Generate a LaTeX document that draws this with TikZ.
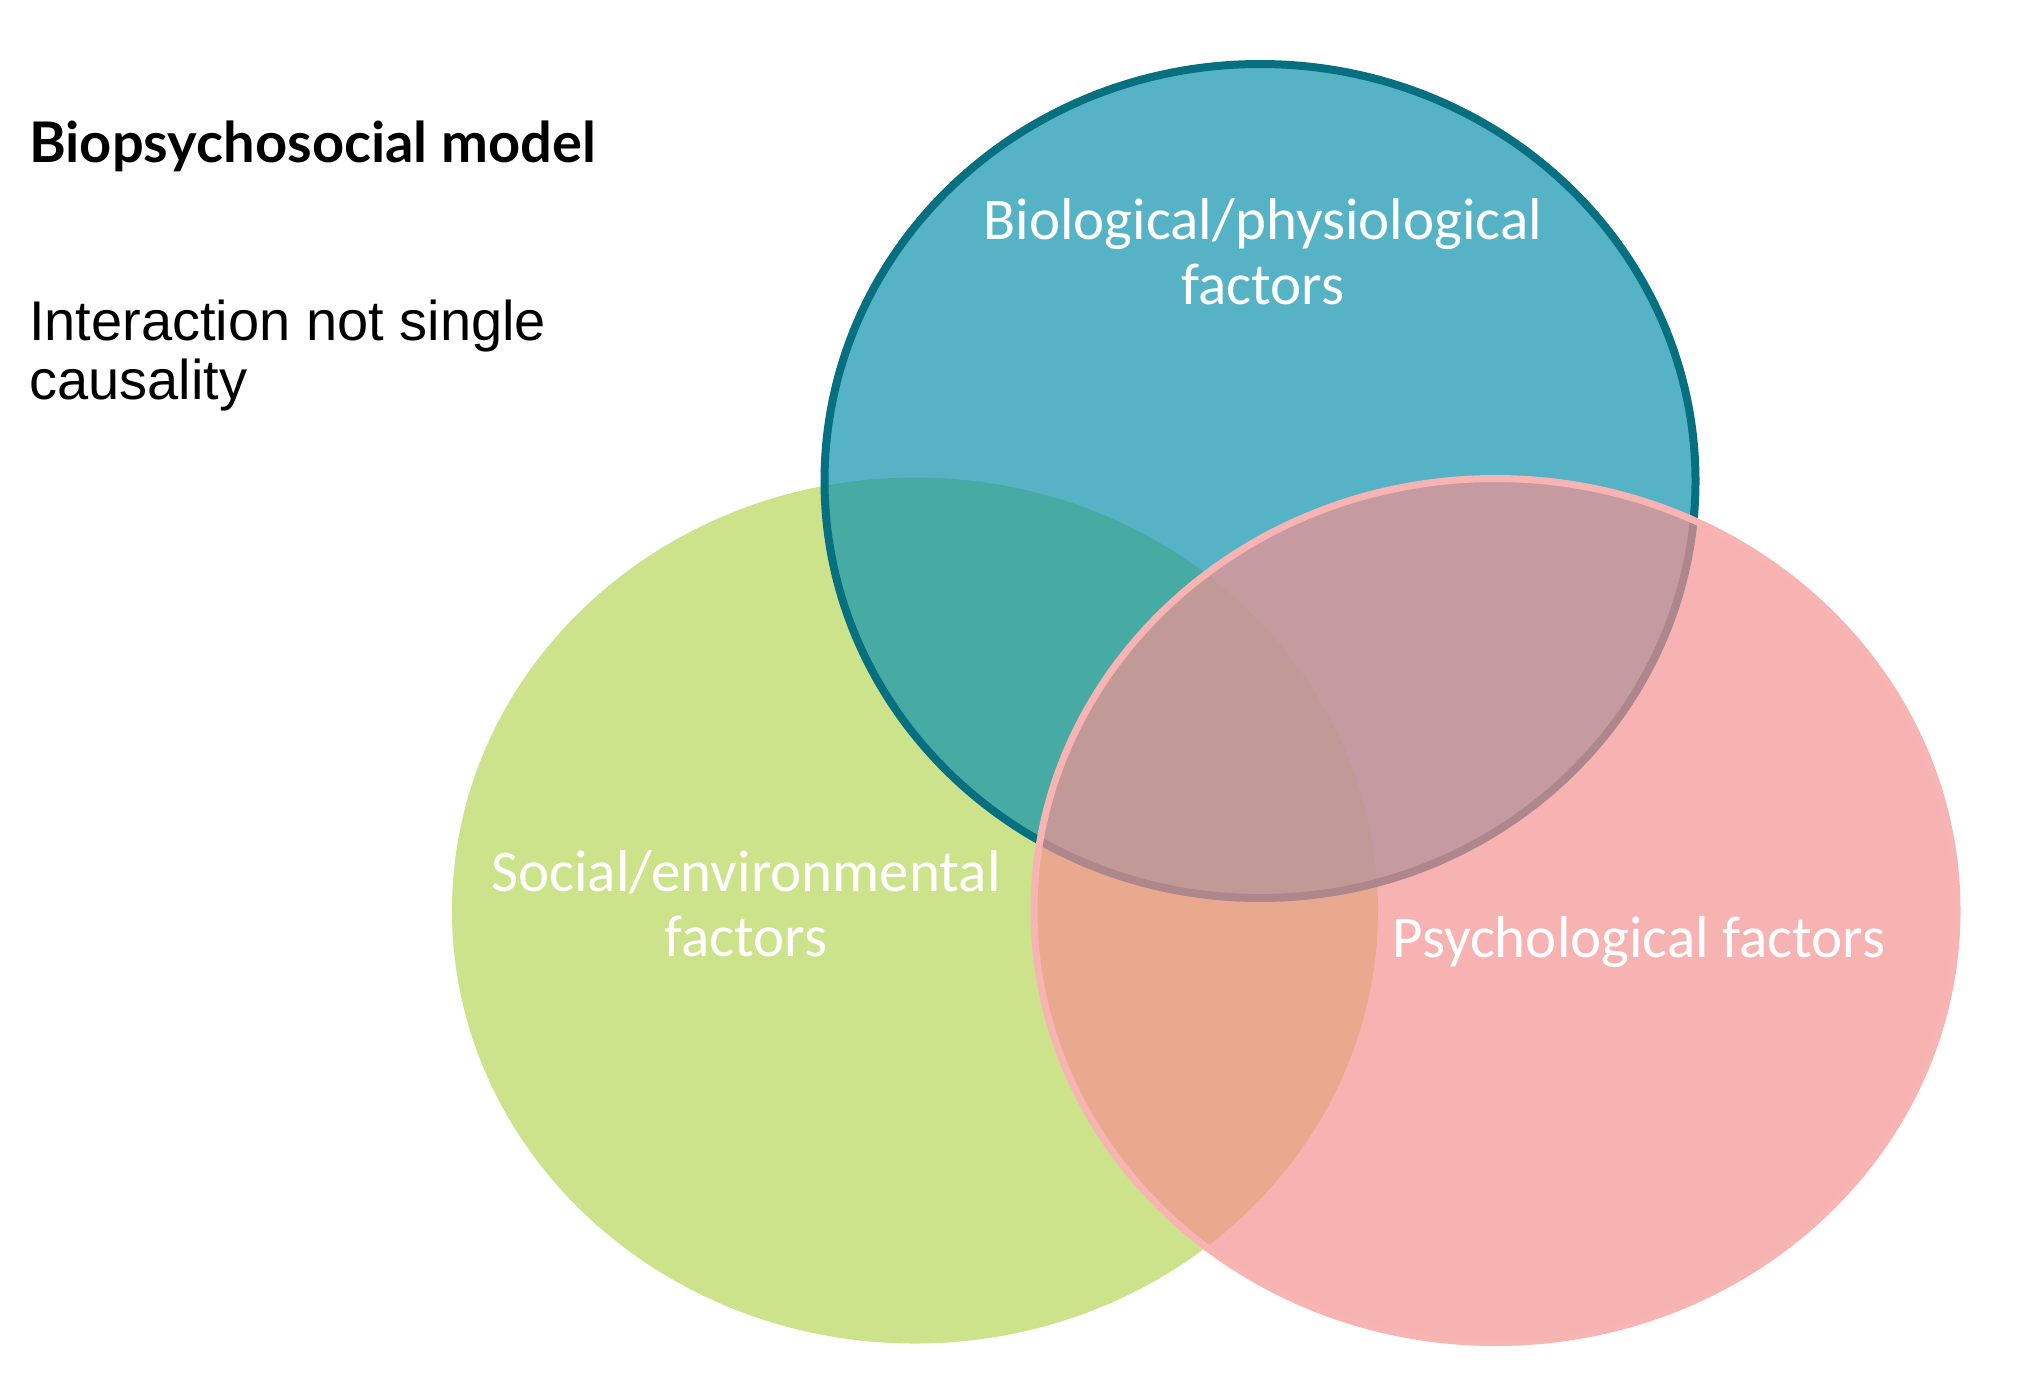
\documentclass[tikz,border=0pt]{standalone}
\usepackage{fontspec}
\setmainfont{Lato}
\newfontfamily\arialfont{Liberation Sans}
\newfontfamily\labelfont{Carlito}
\usetikzlibrary{shapes.geometric}
\definecolor{bluefill}{RGB}{15,148,175}
\definecolor{blueedge}{RGB}{6,111,128}
\definecolor{greenfill}{RGB}{204,226,139}
\definecolor{pinkfill}{RGB}{245,146,146}
\definecolor{pinkedge}{RGB}{248,179,179}
\tikzset{
  venn/.style={ellipse, inner sep=0pt, outer sep=0pt},
  label text/.style={text=white, inner sep=0pt, align=center, font=\labelfont\fontsize{59}{65}\selectfont},
}
\begin{document}
\begin{tikzpicture}[x=1pt,y=-1pt]
\useasboundingbox (0,0) rectangle (2044,1382);
\fill[white] (0,0) rectangle (2044,1382);
% ellipses
\node[venn, fill=greenfill, minimum width=926pt, minimum height=866pt] (social) at (915,910.5) {};
\node[venn, fill=bluefill, fill opacity=0.7, draw=blueedge, draw opacity=1, line width=8pt, minimum width=871pt, minimum height=834pt] (bio) at (1260,481) {};
\node[venn, fill=pinkfill, fill opacity=0.7, draw=pinkedge, draw opacity=1, line width=7pt, minimum width=923pt, minimum height=864pt] (psych) at (1495.5,910.5) {};
% labels
\node[label text, anchor=base] (biotext) at (1263,304) {Biological/physiological\\factors};
\node[label text, anchor=base] (socialtext) at (746,956) {Social/environmental\\factors};
\node[label text, anchor=base] (psychtext) at (1639,957) {Psychological factors};
% titles
\node[anchor=base west, inner sep=0pt, font=\bfseries\fontsize{56}{60}\selectfont] (title) at (29,162) {Biopsychosocial model};
\node[anchor=base west, inner sep=0pt, align=left, font=\arialfont\fontsize{56}{59}\selectfont] (sub) at (29,399) {Interaction not single\\causality};
\end{tikzpicture}
\end{document}
